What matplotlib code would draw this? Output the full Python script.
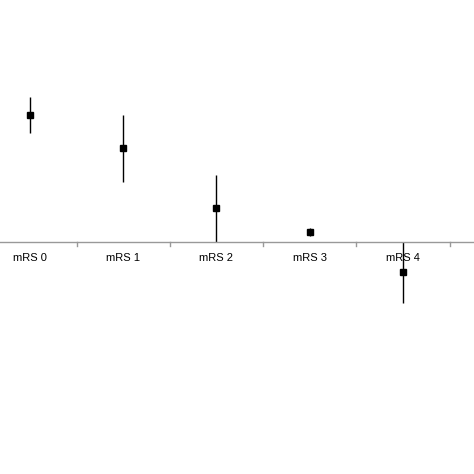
import matplotlib
matplotlib.use("Agg")
import matplotlib.pyplot as plt

categories = ["mRS 0", "mRS 1", "mRS 2", "mRS 3", "mRS 4"]
values = [1.27, 0.94, 0.34, 0.10, -0.30]
errors = [0.18, 0.335, 0.335, 0.04, 0.305]

fig = plt.figure(figsize=(4.74, 4.74), dpi=100)
ax = fig.add_axes([0, 0, 1, 1])
x = list(range(len(categories)))
ax.errorbar(x, values, yerr=errors, fmt="s", color="black", ms=4, elinewidth=1, capsize=0,
            mfc="black", mec="black")
ax.axhline(0, color="#999999", lw=1)
ax.set_xlim(-0.32, 4.76)
ax.set_ylim(-2.32, 2.42)
for s in ax.spines.values():
    s.set_visible(False)
ax.set_xticks([])
ax.set_yticks([])
for i in x:
    ax.plot([i + 0.5, i + 0.5], [0, -0.04], color="#999999", lw=1)
    ax.text(i, -0.16, categories[i], ha="center", va="center", fontsize=8,
            family="Liberation Sans")
fig.savefig("out.png")
